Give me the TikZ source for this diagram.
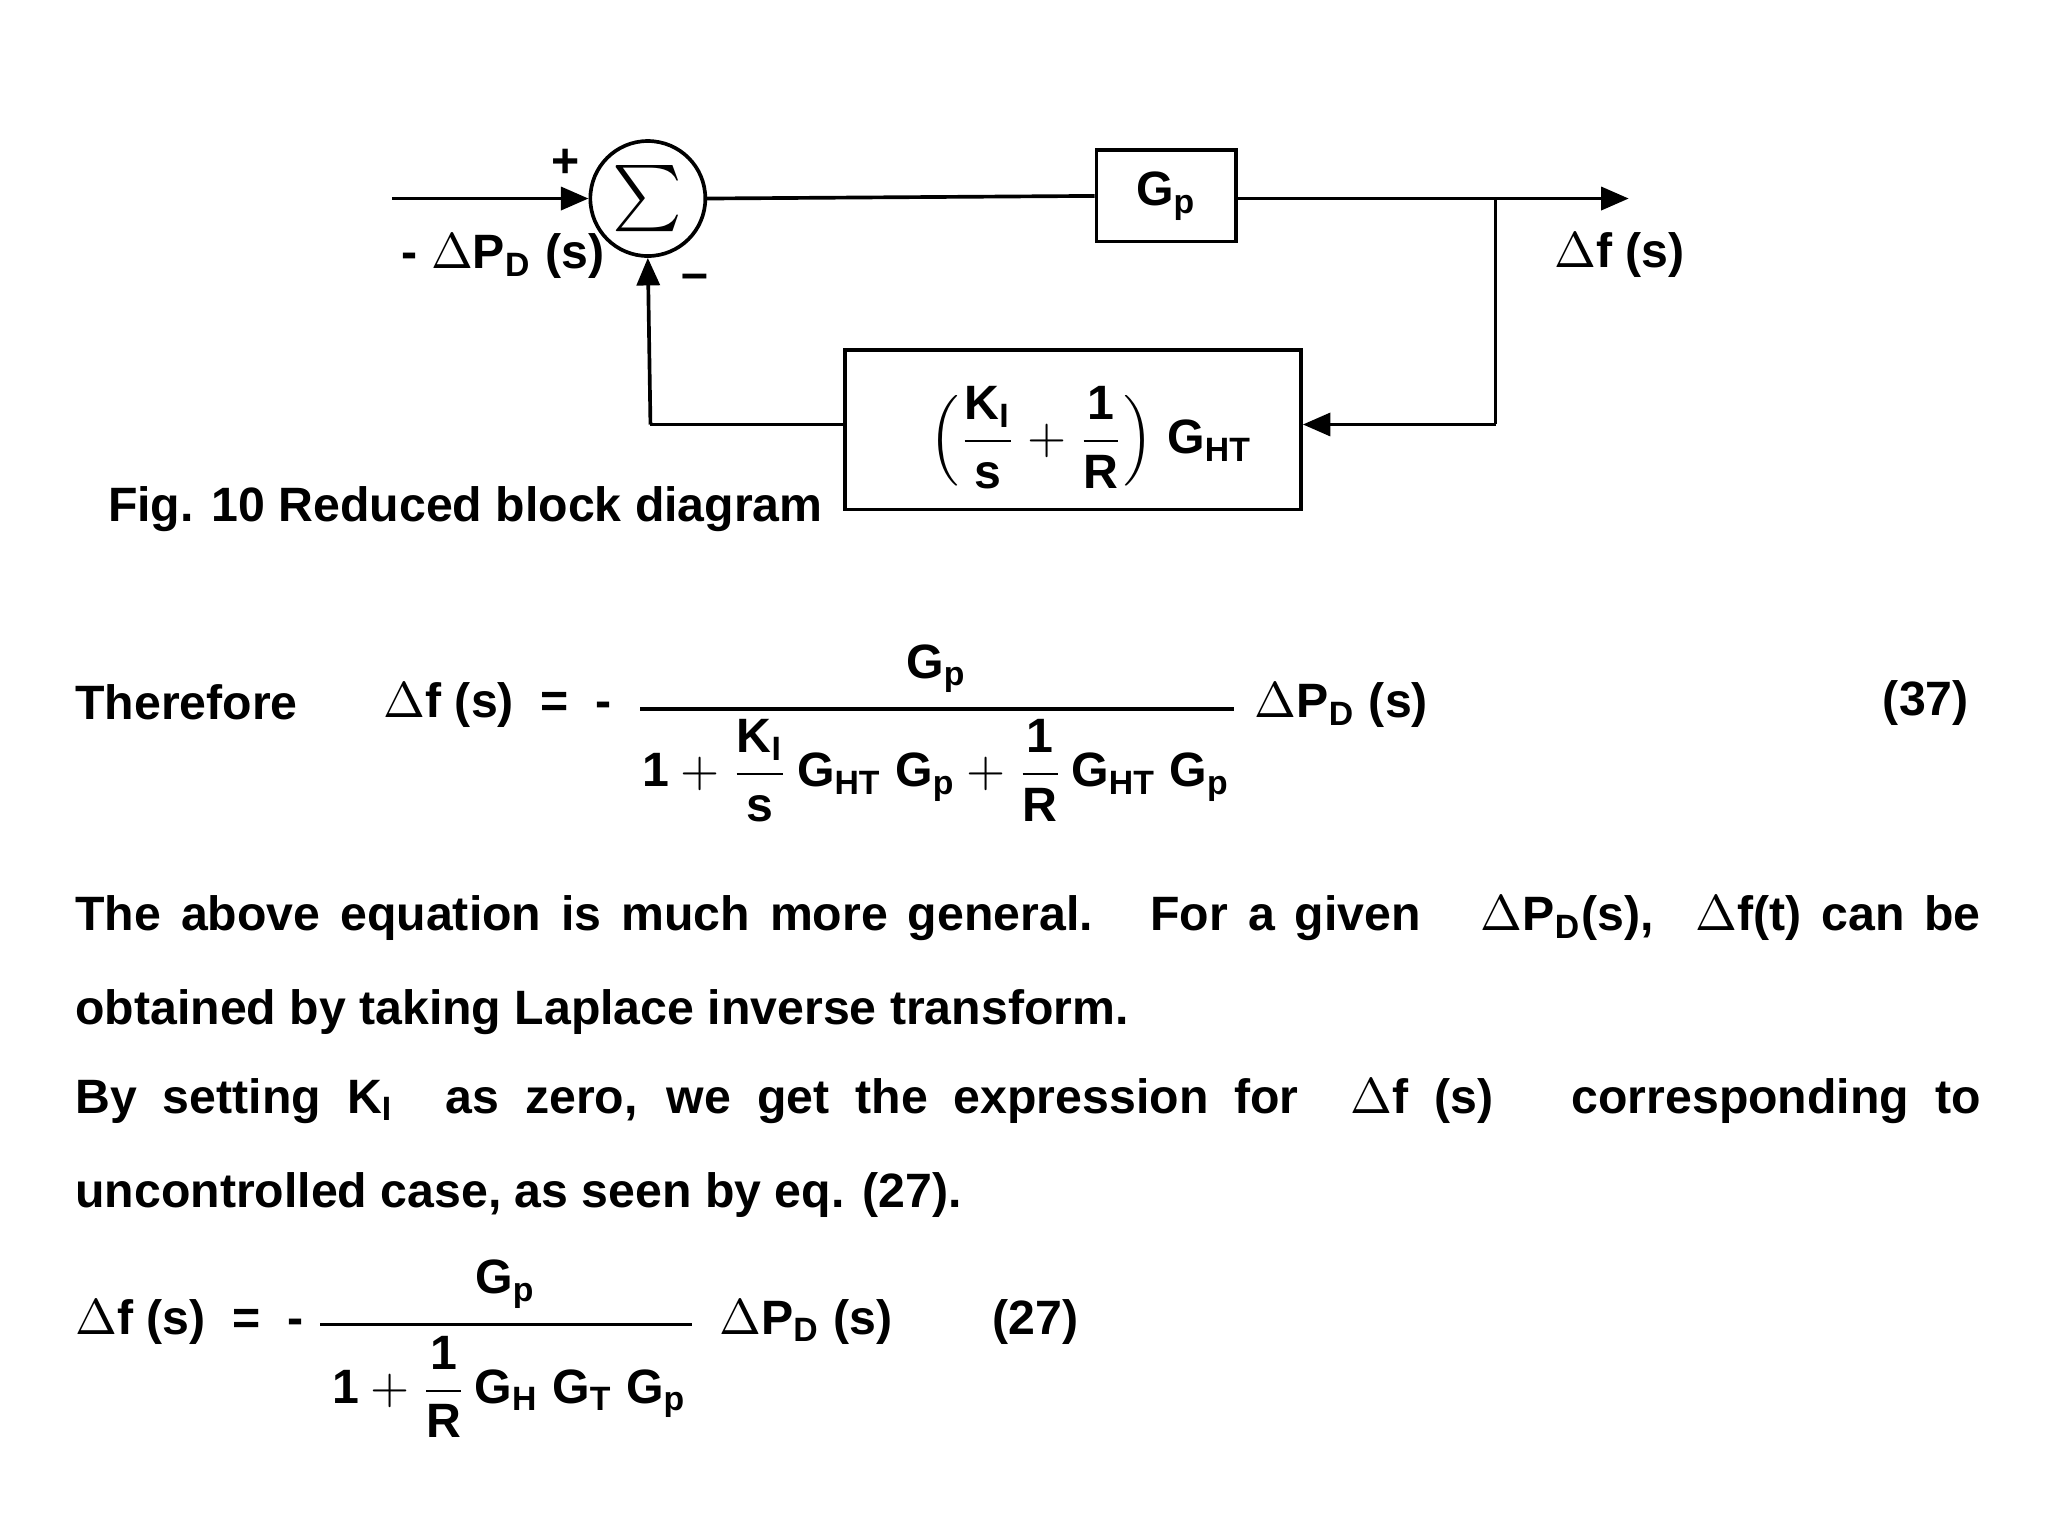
\documentclass[tikz,border=0pt]{standalone}
\usepackage{amsmath}
\usepackage{fontspec}
\setmainfont{Liberation Sans}
\usetikzlibrary{arrows.meta}
\newcommand{\B}[1]{\text{\bfseries #1}}
\begin{document}
\begin{tikzpicture}[x=0.01cm,y=-0.01cm,
  every node/.style={font=\bfseries\fontsize{10.5}{12}\selectfont, inner sep=0pt},
  blk/.style={draw, line width=0.8pt, minimum width=#1},
  ln/.style={line width=0.8pt},
  arr/.style={ln,-{Triangle[length=6pt,width=5pt]}}]
\useasboundingbox (0,0) rectangle (1568,1176);
% block diagram
\node[circle,draw,line width=0.8pt,minimum size=0.88cm] (sum) at (496,152) {\Large$\sum$};
\coordinate (in) at (300,152);
\draw[arr] (in) -- (sum.west);
\node at (433,125) {+};
\node at (532,216) {--};
\node at (385,196) {- $\Delta$P\textsubscript{D} (s)};
\node[draw,line width=0.8pt,minimum width=1.07cm,minimum height=0.70cm] (gp) at (893,150) {G\textsubscript{p}};
\draw[ln] (sum.east) -- (gp.west);
\coordinate (out) at (1247,152);
\coordinate (br) at (1145,152);
\draw[arr] (gp.east |- out) -- (out);
\node at (1240,195) {$\Delta$f (s)};
\node[draw,line width=0.8pt,minimum width=3.49cm,minimum height=1.22cm] (h) at (821.5,329) {};
\node at (835,335) {$\Bigl(\dfrac{\B{K}_{\B{I}}}{\B{s}}+\dfrac{\B{1}}{\B{R}}\Bigr)$ G\textsubscript{HT}};
\coordinate (c1) at (1145,325);
\coordinate (c2) at (498,325);
\draw[ln] (br) -- (c1);
\draw[arr] (c1) -- (h.east |- c1);
\draw[ln] (h.west |- c2) -- (c2);
\draw[arr] (c2) -- (sum.south);
\node[anchor=west] (fig) at (82,390) {Fig. 10 Reduced block diagram};
% eq 37
\node[anchor=west] (th) at (57,538) {Therefore};
\node[anchor=west] (lhs) at (293,540) {$\Delta$f (s) \ = \ -};
\draw[ln] (490,543) -- (945,543);
\node (n37) at (717,512) {G\textsubscript{p}};
\node (d37) at (717,590) {$\B{1}+\dfrac{\B{K}_{\B{I}}}{\B{s}}\,\B{G}_{\B{HT}}\ \B{G}_{\B{p}}+\dfrac{\B{1}}{\B{R}}\,\B{G}_{\B{HT}}\ \B{G}_{\B{p}}$};
\node[anchor=west] (r37) at (960,540) {$\Delta$P\textsubscript{D} (s)};
\node[anchor=east] (e37) at (1508,538) {(37)};
% paragraph
\node[anchor=west] at (57,703) {\makebox[14.58cm][s]{The above equation is much more general. \ For a given \ \ $\Delta$P\textsubscript{D}(s), \ $\Delta$f(t) can be}};
\node[anchor=west] at (57,775) {obtained by taking Laplace inverse transform.};
\node[anchor=west] at (57,843) {\makebox[14.58cm][s]{By setting K\textsubscript{I} \ as zero, we get the expression for \ $\Delta$f (s) \ \ corresponding to}};
\node[anchor=west] at (57,915) {uncontrolled case, as seen by eq. (27).};
% eq 27
\node[anchor=west] (lhs2) at (57,1012) {$\Delta$f (s) \ = \ -};
\draw[ln] (245,1014) -- (530,1014);
\node (n27) at (387,983) {G\textsubscript{p}};
\node (d27) at (390,1062) {$\B{1}+\dfrac{\B{1}}{\B{R}}\,\B{G}_{\B{H}}\ \B{G}_{\B{T}}\ \B{G}_{\B{p}}$};
\node[anchor=west] (r27) at (550,1012) {$\Delta$P\textsubscript{D} (s)};
\node (e27) at (793,1012) {(27)};
\end{tikzpicture}
\end{document}
